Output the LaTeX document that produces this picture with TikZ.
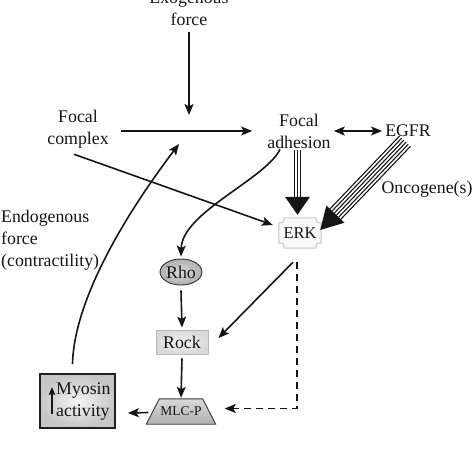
\documentclass[tikz,border=0pt]{standalone}
\usepackage{fontspec}
\setmainfont{Liberation Serif}
\usetikzlibrary{arrows.meta,calc,shapes.geometric,backgrounds}
\definecolor{ink}{HTML}{151515}
\begin{document}
\begin{tikzpicture}[x=1pt,y=-1pt,
  txt/.style={inner sep=0pt, align=center, text=ink, font=\fontsize{17.8}{22}\selectfont},
  arr/.style={draw=ink, line width=1.6pt, -{Stealth[length=11pt,width=9pt,inset=2.5pt]}},
  darr/.style={draw=ink, line width=1.6pt, {Stealth[length=11pt,width=9pt,inset=2.5pt]}-{Stealth[length=11pt,width=9pt,inset=2.5pt]}},
  thin/.style={draw=ink, line width=1.1pt},
  rhobox/.style={ellipse, inner sep=0pt, minimum width=38pt, minimum height=26pt, draw=gray!40!black, line width=0.9pt, inner color=gray!30, outer color=gray!62, text=ink, font=\fontsize{17.8}{22}\selectfont},
  rockbox/.style={rectangle, inner sep=0pt, minimum width=52pt, minimum height=24pt, draw=gray!55, line width=0.9pt, inner color=gray!10, outer color=gray!30, text=ink, font=\fontsize{17.8}{22}\selectfont},
  erkbox/.style={rectangle, inner sep=0pt, minimum width=42pt, minimum height=30pt, text=ink, font=\fontsize{16.5}{20}\selectfont},
  mlcbox/.style={rectangle, inner sep=0pt, minimum width=69pt, minimum height=25pt, text=ink, font=\fontsize{13.5}{16}\selectfont},
  myobox/.style={rectangle, inner sep=0pt, minimum width=75pt, minimum height=54pt, draw=gray!25!black, line width=1.8pt, inner color=gray!8, outer color=gray!45}
]
\useasboundingbox (0,0) rectangle (474,474);

% text nodes
\node[txt] (exo) at (189,9) {Exogenous\\force};
\node[txt] (fc) at (78,129) {Focal\\complex};
\node[txt] (fa) at (299,131) {Focal\\adhesion};
\node[txt] (egfr) at (408,131) {EGFR};
\node[txt] (onco) at (427,189) {Oncogene(s)};
\node[txt, align=left, anchor=west] (endotxt) at (1,240) {Endogenous\\force\\(contractility)};

% shapes
\node[erkbox] (erk) at (300,233) {ERK};
\node[rhobox] (rho) at (181,272) {Rho};
\node[rockbox] (rock) at (182,342) {Rock};
\node[mlcbox] (mlc) at (181,411.5) {MLC-P};
\node[myobox] (myo) at (77.5,401) {};
\node[txt, align=left, anchor=west] (myot) at (56,402) {Myosin\\activity};
\coordinate (upb) at (52,414);
\coordinate (upt) at (52,387);
\draw[draw=ink, line width=1.6pt, -{Stealth[length=8pt,width=6.5pt,inset=1.5pt]}] (upb) -- (upt);

\begin{scope}[on background layer]
  \filldraw[fill=gray!5, draw=gray!45, line width=1pt]
    ($(erk.north west)+(5,0)$) -- ($(erk.north east)+(-5,0)$)
    .. controls ($(erk.north east)+(-5,5)$) .. ($(erk.north east)+(0,5)$)
    -- ($(erk.south east)+(0,-5)$)
    .. controls ($(erk.south east)+(-5,-5)$) .. ($(erk.south east)+(-5,0)$)
    -- ($(erk.south west)+(5,0)$)
    .. controls ($(erk.south west)+(5,-5)$) .. ($(erk.south west)+(0,-5)$)
    -- ($(erk.north west)+(0,5)$)
    .. controls ($(erk.north west)+(5,5)$) .. ($(erk.north west)+(5,0)$) -- cycle;
  \path[top color=gray!30, bottom color=gray!62, draw=gray!45!black, line width=0.9pt]
    (mlc.south west) -- (mlc.south east) -- ($(mlc.north east)+(-13,0)$)
    -- ($(mlc.north west)+(13,0)$) -- cycle;
\end{scope}

% coordinates for free ends
\coordinate (exotip) at (189,115);
\coordinate (endo) at (179,144);

% connectors
\draw[arr] ($(exo.south)+(0,6)$) -- (exotip);
\draw[arr] ($(fc.east)+(12,2)$) -- ($(fa.west)+(-15,0)$);
\draw[darr] ($(fa.east)+(3,0)$) -- ($(egfr.west)+(-3,0)$);
\draw[arr] ($(fc.south)+(-4,6)$) -- ($(erk.west)+(-6,-8)$);
\draw[arr] ($(myo.north)+(-5,-9)$) .. controls (74,300) and (125,215) .. (endo);
\draw[arr] ($(fa.south)+(-19,1)$) .. controls +(-15,30) and +(1,-44) .. ($(rho.north)+(0,-2)$);
\draw[arr] ($(rho.south)+(0,5)$) -- ($(rock.north)+(0,-2)$);
\draw[arr] ($(rock.south)+(0,4)$) -- ($(mlc.north)+(0,-1)$);
\draw[arr] ($(erk.south)+(-7,14)$) -- ($(rock.east)+(10,-4)$);
\draw[arr] ($(mlc.west)+(2,1)$) -- ($(myo.east)+(12,12)$);
\draw[arr, line width=1.8pt, dash pattern=on 7pt off 5pt] ($(erk.south)+(-3,14)$) |- ($(mlc.east)+(9,-3)$);

% triple arrow focal adhesion -> ERK
\coordinate (ttip) at ($(erk.north)+(-2.5,-3)$);
\coordinate (tbase) at ($(ttip)+(0,-18)$);
\foreach \d in {-2.8,0,2.8}
  \draw[thin] ($(fa.south)+(\d-1.5,2)$) -- ($(tbase)+(\d,0.5)$);
\fill[ink] ($(tbase)+(-12.5,0)$) -- ($(tbase)+(12.5,0)$) -- (ttip) -- cycle;

% six-line arrow EGFR -> ERK
\coordinate (egs) at ($(egfr.south)+(-3,4)$);
\coordinate (egt) at ($(erk.east)+(-1,-3)$);
\coordinate (egb) at ($(egt)!22pt!(egs)$);
\foreach \d in {-7.5,-4.5,-1.5,1.5,4.5,7.5}
  \draw[thin] ($(egs)!\d pt!90:(egt)$) -- ($(egb)!\d pt!90:(egt)$);
\fill[ink] ($(egb)!12.5pt!90:(egt)$) -- ($(egb)!-12.5pt!90:(egt)$) -- (egt) -- cycle;
\end{tikzpicture}
\end{document}
